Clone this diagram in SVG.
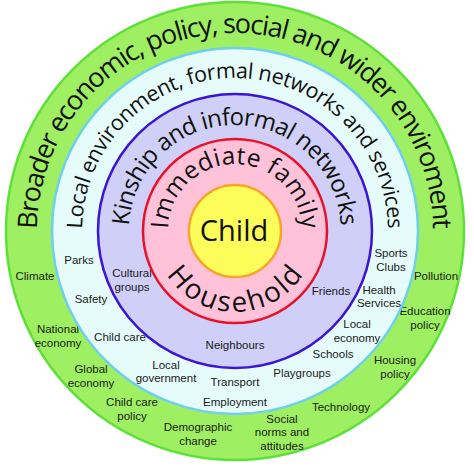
<svg xmlns="http://www.w3.org/2000/svg" width="474" height="466" viewBox="0 0 474 466">
<style>
.ring{font-family:"Open Sans",Lato,"DejaVu Sans",sans-serif;fill:#111}
.lbl{font-family:"Liberation Sans",Arial,sans-serif;font-size:11.5px;fill:#1a1a1a;text-anchor:middle}
</style>
<defs>
<path id="pBroad" d="M 37 231 A 198 198 0 0 1 433 231"/>
<path id="pLocal" d="M 82 231 A 153 153 0 0 1 388 231"/>
<path id="pKin" d="M 129 231 A 106 106 0 0 1 341 231"/>
<path id="pImm" d="M 168 231 A 67 67 0 0 1 302 231"/>
<path id="pHouse" d="M 154 231 A 81 81 0 0 0 316 231"/>
</defs>
<rect width="474" height="466" fill="#ffffff"/>
<g id="broader">
<circle cx="235" cy="231" r="229" fill="#9fef62" stroke="#5ee03a" stroke-width="2.5"/>
<text class="ring" font-size="27" textLength="618" lengthAdjust="spacing"><textPath href="#pBroad" startOffset="50%" text-anchor="middle">Broader economic, policy, social and wider enviroment</textPath></text>
<text class="lbl" x="35" y="280">Climate</text>
<text class="lbl" x="436" y="280">Pollution</text>
<text class="lbl"><tspan x="58" y="333">National</tspan><tspan x="58" y="347">economy</tspan></text>
<text class="lbl"><tspan x="425" y="315">Education</tspan><tspan x="425" y="329">policy</tspan></text>
<text class="lbl"><tspan x="91" y="373">Global</tspan><tspan x="91" y="387">economy</tspan></text>
<text class="lbl"><tspan x="395" y="364">Housing</tspan><tspan x="395" y="378">policy</tspan></text>
<text class="lbl"><tspan x="132" y="406">Child care</tspan><tspan x="132" y="420">policy</tspan></text>
<text class="lbl" x="341" y="411">Technology</text>
<text class="lbl"><tspan x="198" y="431">Demographic</tspan><tspan x="198" y="445">change</tspan></text>
<text class="lbl"><tspan x="282" y="423">Social</tspan><tspan x="282" y="436">norms and</tspan><tspan x="282" y="450">attitudes</tspan></text>
</g>
<g id="local">
<circle cx="235" cy="231" r="183" fill="#e6fcfa" stroke="#6fcfee" stroke-width="2.5"/>
<text class="ring" font-size="21.5" textLength="476" lengthAdjust="spacing"><textPath href="#pLocal" startOffset="50%" text-anchor="middle">Local environment, formal networks and services</textPath></text>
<text class="lbl" x="79" y="264">Parks</text>
<text class="lbl" x="91" y="303">Safety</text>
<text class="lbl" x="120" y="341">Child care</text>
<text class="lbl"><tspan x="166" y="369">Local</tspan><tspan x="166" y="382">government</tspan></text>
<text class="lbl" x="235" y="386">Transport</text>
<text class="lbl" x="235" y="406">Employment</text>
<text class="lbl" x="302" y="377">Playgroups</text>
<text class="lbl" x="333" y="358">Schools</text>
<text class="lbl"><tspan x="357" y="328">Local</tspan><tspan x="357" y="342">economy</tspan></text>
<text class="lbl"><tspan x="379" y="294">Health</tspan><tspan x="379" y="307">Services</tspan></text>
<text class="lbl"><tspan x="391" y="257">Sports</tspan><tspan x="391" y="271">Clubs</tspan></text>
</g>
<g id="kinship">
<circle cx="235" cy="231" r="137" fill="#cfcff7" stroke="#3b14d6" stroke-width="2.5"/>
<text class="ring" font-size="24" textLength="322" lengthAdjust="spacing"><textPath href="#pKin" startOffset="50%" text-anchor="middle">Kinship and informal networks</textPath></text>
<text class="lbl"><tspan x="132" y="277">Cultural</tspan><tspan x="132" y="291">groups</tspan></text>
<text class="lbl" x="331" y="295">Friends</text>
<text class="lbl" x="235" y="349">Neighbours</text>
</g>
<g id="family">
<circle cx="235" cy="231" r="92" fill="#ffc2d9" stroke="#e8102a" stroke-width="2.5"/>
<text class="ring" font-size="24.5" textLength="206" lengthAdjust="spacing"><textPath href="#pImm" startOffset="50%" text-anchor="middle">Immediate family</textPath></text>
<text class="ring" font-size="28" textLength="162" lengthAdjust="spacing"><textPath href="#pHouse" startOffset="50%" text-anchor="middle">Household</textPath></text>
</g>
<g id="child">
<circle cx="235" cy="231" r="46" fill="#fdfd5a" stroke="#f5a52a" stroke-width="2.5"/>
<text class="ring" x="234" y="241" font-size="29" text-anchor="middle">Child</text>
</g>
<g id="connectors"/>
</svg>
